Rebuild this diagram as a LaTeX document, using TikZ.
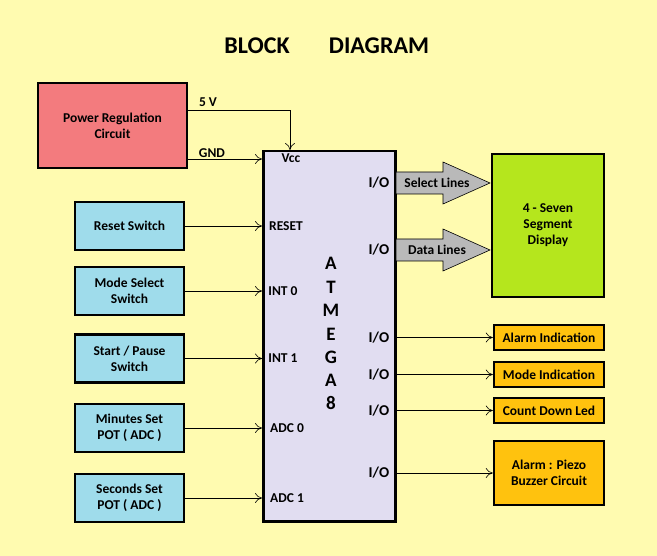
\documentclass[tikz,border=0pt]{standalone}
\usepackage{fontspec}
\setmainfont{Carlito}
\usetikzlibrary{arrows.meta}
\definecolor{bg}{HTML}{FFFBB0}
\definecolor{pw}{HTML}{F37B7E}
\definecolor{mc}{HTML}{E1DDF1}
\definecolor{cy}{HTML}{9FDCEB}
\definecolor{lg}{HTML}{B5E61D}
\definecolor{og}{HTML}{FFC20E}
\begin{document}
\begin{tikzpicture}[x=1pt,y=-1pt,
  blk/.style={draw=black,line width=2.5pt,font=\bfseries\fontsize{13.5}{16}\selectfont,align=center,inner sep=0pt},
  lbl/.style={font=\bfseries\fontsize{13.5}{16}\selectfont,inner sep=1pt},
  con/.style={line width=0.6pt,-{To[length=7pt,width=10pt]}},
  fat/.style={draw=black,fill=gray!55,line width=0.6pt}]
\fill[bg] (0,0) rectangle (657,556);
\node[font=\bfseries\fontsize{24}{26}\selectfont] (t1) at (257,46) {BLOCK};
\node[font=\bfseries\fontsize{24}{26}\selectfont] (t2) at (379,46) {DIAGRAM};
\node[blk,fill=pw,minimum width=149pt,minimum height=85pt] (pw) at (112.5,125.5) {Power Regulation\\Circuit};
\node[blk,fill=mc,minimum width=132pt,minimum height=370pt,anchor=north west] (mc) at (262,150) {};
\coordinate (vcc) at (290,150);
\draw[con] (pw.east |- 0,110) -| (vcc);
\draw[con] (pw.east |- 0,159) -- (mc.west |- 0,159);
\node[lbl] at (208,102) {5 V};
\node[lbl] at (212,153) {GND};
\node[lbl] at (291,158) {Vcc};
\foreach \t/\y in {A/263,T/287,M/310,E/334,G/357,A/380,8/403}
  \node[font=\bfseries\fontsize{19}{20}\selectfont] at (331,\y) {\t};
\foreach \n/\t/\y/\lab/\lx in {r/{Reset Switch}/226/RESET/286, m/{Mode Select\\Switch}/291/INT 0/283, s/{Start / Pause\\Switch}/358.5/INT 1/283, mi/{Minutes Set\\POT ( ADC )}/428/ADC 0/287, se/{Seconds Set\\POT ( ADC )}/498/ADC 1/287}{
  \node[blk,fill=cy,minimum width=109pt,minimum height=48pt] (\n) at (129.5,\y) {\t};
  \draw[con] (\n.east) -- (mc.west |- \n.east);
  \node[lbl] at (\lx,\y) {\lab};
}
\node[blk,fill=lg,minimum width=112pt,minimum height=143pt] (seg) at (548,225.5) {4 - Seven\\Segment\\Display};
\foreach \y/\t in {183/Select Lines,250/Data Lines}{
  \draw[fat] (396,\y-11) -- (443,\y-11) -- (443,\y-21) -- (490,\y) -- (443,\y+21) -- (443,\y+11) -- (396,\y+11) -- cycle;
  \node[lbl] at (437,\y) {\t};
  \node[lbl,font=\bfseries\fontsize{15}{17}\selectfont] at (379,\y) {I/O};
}
\foreach \n/\t/\y/\h in {a1/{Alarm Indication}/337.5/25, a2/{Mode Indication}/374.5/25, a3/{Count Down Led}/410.5/25, a4/{Alarm : Piezo\\Buzzer Circuit}/473/64}{
  \node[blk,fill=og,minimum width=110pt,minimum height=\h pt] (\n) at (549,\y) {\t};
  \node[lbl,font=\bfseries\fontsize{15}{17}\selectfont] (io\n) at (379,\y) {I/O};
  \draw[con] (mc.east |- \n.west) -- (\n.west);
}
\end{tikzpicture}
\end{document}
